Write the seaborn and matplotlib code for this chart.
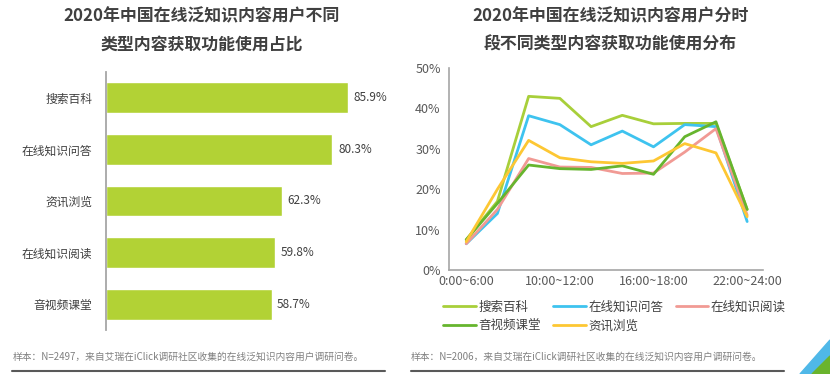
import matplotlib.pyplot as plt
import matplotlib.patches as mpatches
import seaborn as sns
import pandas as pd

# left chart: share of users by content-acquisition feature
bar_cats = ["搜索百科", "在线知识问答", "资讯浏览", "在线知识阅读", "音视频课堂"]
bar_vals = [85.9, 80.3, 62.3, 59.8, 58.7]

# right chart: usage by time slot
time_slots = ["0:00~6:00", "6:00~8:00", "8:00~10:00", "10:00~12:00", "12:00~14:00",
              "14:00~16:00", "16:00~18:00", "18:00~20:00", "20:00~22:00", "22:00~24:00"]
search_wiki = [7.5, 17.0, 43.0, 42.5, 35.5, 38.3, 36.2, 36.3, 36.3, 15.0]
qa_online = [6.5, 14.0, 38.2, 36.0, 31.0, 34.4, 30.5, 36.0, 35.5, 12.0]
reading_online = [6.5, 15.0, 27.6, 25.5, 25.4, 23.9, 24.0, 29.2, 35.0, 13.6]
video_class = [7.5, 16.5, 26.0, 25.1, 24.9, 25.8, 23.7, 33.0, 36.7, 15.0]
news_browse = [7.0, 20.0, 32.1, 27.8, 26.8, 26.4, 27.0, 31.3, 29.0, 13.2]
x_tick_labels = ["0:00~6:00", "10:00~12:00", "16:00~18:00", "22:00~24:00"]

series_names = ["搜索百科", "在线知识问答", "在线知识阅读", "音视频课堂", "资讯浏览"]
series_vals = [search_wiki, qa_online, reading_online, video_class, news_browse]
series_colors = ["#a8cf3a", "#3ec3ef", "#f19a94", "#66b52e", "#fdc733"]

sns.set_style("white")
plt.rcParams["font.family"] = ["Noto Sans CJK SC", "DejaVu Sans"]

text_color = "#404040"
fig = plt.figure(figsize=(8.3, 3.74), dpi=100)

# ---- left: horizontal bars
ax1 = fig.add_axes([0.1277, 0.1176, 0.3398, 0.690])
sns.barplot(x=bar_vals, y=bar_cats, orient="h", color="#b2d235",
            width=0.6, saturation=1, ax=ax1)
ax1.set_xlim(0, 100)
ax1.set_ylim(4.5, -0.5)
ax1.bar_label(ax1.containers[0], labels=[f"{v}%" for v in bar_vals],
              padding=4, fontsize=8.5, color=text_color)
ax1.set_xticks([])
ax1.set_xlabel("")
ax1.tick_params(axis="y", length=0, labelsize=8.5, labelcolor=text_color, pad=10)
for s in ["top", "right", "bottom"]:
    ax1.spines[s].set_visible(False)
ax1.spines["left"].set_color("#a6a6a6")
ax1.spines["left"].set_linewidth(1.3)

# ---- right: lines by time slot
df = pd.DataFrame({
    "slot": time_slots * len(series_names),
    "value": [v for vals in series_vals for v in vals],
    "type": [n for n in series_names for _ in time_slots],
})
ax2 = fig.add_axes([0.541, 0.278, 0.378, 0.540])
sns.lineplot(data=df, x="slot", y="value", hue="type", hue_order=series_names,
             palette=series_colors, linewidth=2, sort=False, legend=False, ax=ax2)
ax2.set_xlim(-0.55, 9.5)
ax2.set_ylim(0, 50)
ax2.set_yticks(range(0, 51, 10))
ax2.set_yticklabels([f"{t}%" for t in range(0, 51, 10)])
ax2.set_xticks([time_slots.index(t) for t in x_tick_labels])
ax2.set_xticklabels(x_tick_labels)
ax2.set_xlabel("")
ax2.set_ylabel("")
ax2.tick_params(length=0, labelsize=9, labelcolor="#595959")
ax2.tick_params(axis="y", pad=6)
for s in ["top", "right"]:
    ax2.spines[s].set_visible(False)
for s in ["left", "bottom"]:
    ax2.spines[s].set_color("#a6a6a6")
    ax2.spines[s].set_linewidth(1.2)

# legend laid out row-wise in 3 columns
handles = {n: plt.Line2D([], [], color=c, lw=2) for n, c in zip(series_names, series_colors)}
order = ["搜索百科", "音视频课堂", "在线知识问答", "资讯浏览", "在线知识阅读"]
fig.legend([handles[n] for n in order], order, loc="upper left",
           bbox_to_anchor=(0.528, 0.21), ncol=3, frameon=False, fontsize=9,
           handlelength=2.6, handletextpad=0.2, columnspacing=1.0,
           labelspacing=0.45, borderaxespad=0, labelcolor=text_color)

# titles
title_kw = dict(ha="center", va="center", fontsize=12.2, fontweight="bold", color=text_color)
fig.text(0.243, 0.955, "2020年中国在线泛知识内容用户不同", **title_kw)
fig.text(0.243, 0.880, "类型内容获取功能使用占比", **title_kw)
fig.text(0.735, 0.955, "2020年中国在线泛知识内容用户分时", **title_kw)
fig.text(0.735, 0.880, "段不同类型内容获取功能使用分布", **title_kw)

# footnotes and rules
fig.text(0.015, 0.045, "样本：N=2497，来自艾瑞在iClick调研社区收集的在线泛知识内容用户调研问卷。",
         ha="left", va="center", fontsize=7, color="#808080")
fig.text(0.495, 0.045, "样本：N=2006，来自艾瑞在iClick调研社区收集的在线泛知识内容用户调研问卷。",
         ha="left", va="center", fontsize=7, color="#808080")
fig.add_artist(plt.Line2D([0.015, 0.464], [0.008, 0.008], color="#595959", lw=1.5))
fig.add_artist(plt.Line2D([0.495, 0.944], [0.008, 0.008], color="#595959", lw=1.5))

# corner decoration
fig.add_artist(mpatches.Polygon([(800 / 830, 0), (1, 34 / 374), (1, 0)],
                                closed=True, color="#4fb8e8", transform=fig.transFigure))
fig.add_artist(mpatches.Polygon([(812 / 830, 0), (1, 18 / 374), (1, 0)],
                                closed=True, color="#6ab42d", transform=fig.transFigure))

fig.savefig("out.png", dpi=100)
